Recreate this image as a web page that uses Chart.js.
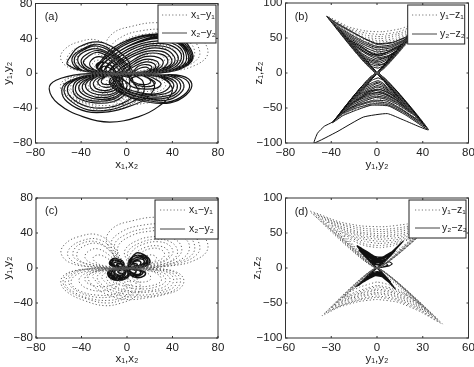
<!DOCTYPE html>
<html><head><meta charset="utf-8">
<script src="https://cdn.jsdelivr.net/npm/chart.js@4"></script>
<style>
html,body{margin:0;padding:0;background:#fff;width:474px;height:367px;overflow:hidden;position:relative}
canvas{position:absolute}
</style></head><body>
<canvas id="a" width="237" height="184" style="left:0;top:-12px"></canvas>
<canvas id="b" width="250" height="184" style="left:237px;top:-12px"></canvas>
<canvas id="c" width="237" height="184" style="left:0;top:182px"></canvas>
<canvas id="d" width="250" height="184" style="left:237px;top:182px"></canvas>
<script>
const xTicksWide = [-80,-40,0,40,80];
const xTicksNarrow = [-60,-30,0,30,60];
const yTicksXY = [-80,-40,0,40,80];
const yTicksZ = [-100,-50,0,50,100];

const x1y1 = [
[-2,2],[-18,30],[-12,46],[5,54],[25,58],[48,54],[64,42],[71,22],[58,8],[35,2],[10,0],
[-5,3],[-14,28],[-4,42],[14,49],[33,50],[52,44],[62,32],[63,18],[48,6],[26,1],[5,0],
[-3,4],[-11,26],[0,39],[17,45],[35,46],[51,39],[59,28],[57,15],[40,5],[16,0],
[-3,4],[-8,24],[4,37],[20,42],[38,43],[50,35],[55,24],[50,12],[32,3],[8,0],
[0,1],[-12,25],[-26,38],[-42,36],[-54,28],[-58,17],[-50,6],[-30,1],[-8,0],
[0,4],[-2,20],[10,32],[25,36],[38,35],[47,27],[47,16],[36,6],[12,1],
[-3,1],[-13,22],[-26,33],[-40,31],[-50,23],[-52,14],[-44,5],[-26,1],[-6,0],
[1,4],[1,19],[12,29],[26,33],[38,30],[44,22],[43,13],[33,5],[11,1],
[2,4],[4,18],[14,27],[28,30],[38,25],[40,16],[30,6],[10,1],
[-5,1],[-14,18],[-26,28],[-38,25],[-44,17],[-42,9],[-30,3],[-8,0],
[3,4],[7,16],[17,24],[29,25],[36,20],[36,12],[27,6],[9,2],
[4,5],[10,15],[20,22],[30,21],[33,14],[25,7],[8,2],
[-4,1],[-15,20],[-27,30],[-40,28],[-47,20],[-46,11],[-33,4],[-9,0],
[-6,1],[-15,14],[-26,22],[-34,19],[-37,12],[-30,5],[-10,1],
[8,5],[14,12],[22,15],[26,11],[20,5],[6,1],
[-8,1],[-16,10],[-25,15],[-30,11],[-24,4],[-8,0],
[-20,-1],[-45,-3],[-56,-9],[-58,-18],[-52,-28],[-38,-37],[-20,-43],[-5,-40],[8,-32],[12,-22],[5,-8],[-8,-1],
[-42,-2],[-54,-9],[-56,-18],[-50,-27],[-36,-35],[-18,-40],[-4,-36],[6,-28],[8,-18],[2,-8],[-9,-1],
[-40,-2],[-52,-10],[-54,-19],[-46,-28],[-32,-35],[-16,-37],[-3,-33],[4,-24],[0,-10],[-10,-2],
[-36,-2],[-49,-9],[-51,-18],[-43,-27],[-29,-33],[-14,-33],[-3,-28],[1,-18],[-3,-9],[-11,-2],
[-32,-3],[-46,-9],[-49,-18],[-40,-27],[-26,-31],[-12,-30],[-3,-24],[-3,-12],[-12,-3],
[5,0],[28,-1],[44,-5],[50,-14],[46,-24],[34,-30],[18,-34],[0,-36],[-16,-31],[-30,-20],[-34,-9],[-20,-2],
[27,-1],[42,-5],[47,-14],[43,-24],[30,-30],[13,-33],[-4,-32],[-19,-25],[-28,-14],[-30,-8],[-17,-2],
[25,-2],[40,-6],[44,-14],[40,-23],[26,-29],[8,-31],[-8,-28],[-22,-19],[-26,-9],[-14,-2],
[24,-2],[37,-6],[41,-14],[36,-23],[22,-27],[5,-28],[-10,-24],[-20,-15],[-22,-9],[-11,-2],
[22,-2],[34,-7],[38,-14],[32,-22],[18,-26],[2,-26],[-12,-20],[-18,-10],[-8,-2],
[20,-3],[31,-8],[34,-15],[27,-21],[13,-24],[-2,-21],[-14,-14],[-13,-7],[-5,-2],
[18,-3],[28,-8],[30,-15],[22,-20],[8,-21],[-6,-16],[-10,-8],[-2,-2],
[-28,-3],[-40,-9],[-42,-16],[-34,-24],[-20,-26],[-8,-20],[-8,-10],[-18,-3],
[-24,-3],[-35,-8],[-37,-14],[-30,-20],[-18,-21],[-9,-16],[-10,-8],[-18,-3],
[12,-3],[20,-8],[20,-14],[10,-16],[0,-12],[0,-5],[0,0]
];

const x2y2a = [
[-27,6],[-15,26],[5,40],[25,45],[45,42],[56,28],[57,14],[42,3],[15,0],
[-25,4],[-12,24],[8,38],[28,43],[44,38],[54,26],[55,13],[40,3],[12,0],
[-10,0],[-36,2],[-52,10],[-50,18],[-42,30],[-25,36],[-8,26],[3,8],[-8,0],
[-24,4],[-10,22],[10,36],[30,41],[45,36],[53,24],[53,12],[38,2],[10,0],
[-26,5],[-13,25],[6,39],[26,44],[44,40],[55,27],[56,13],[41,3],[14,0],
[-23,4],[-9,23],[11,37],[29,42],[45,37],[53,25],[54,12],[39,2],[11,0],
[-22,4],[-8,24],[12,36],[30,40],[45,34],[52,22],[50,10],[36,2],[8,0],
[-30,1],[-44,6],[-48,17],[-40,27],[-24,33],[-8,20],[5,1],[-12,0],
[-20,3],[-6,22],[13,34],[31,37],[45,31],[50,20],[46,8],[32,1],[6,0],
[-18,3],[-5,20],[14,32],[32,34],[44,28],[48,18],[42,7],[28,1],[5,0],
[-28,1],[-41,5],[-46,16],[-39,26],[-25,31],[-9,19],[3,1],[-12,0],
[-25,1],[-37,5],[-43,15],[-38,24],[-25,28],[-10,18],[0,1],[-12,0],
[-16,2],[-2,19],[16,30],[32,31],[42,25],[45,15],[38,6],[24,1],[3,0],
[-14,2],[0,18],[18,28],[32,28],[40,22],[42,13],[34,5],[20,1],[2,0],
[-12,2],[1,16],[17,25],[31,25],[38,19],[39,11],[30,4],[18,1],[1,0],
[-20,1],[-34,4],[-40,13],[-36,21],[-25,26],[-11,17],[-2,1],[-13,0],
[-15,0],[-30,4],[-38,12],[-34,19],[-25,24],[-12,15],[-3,1],
[-8,2],[2,12],[16,22],[30,22],[36,15],[32,6],[20,1],[0,0],
[-5,1],[4,11],[16,19],[28,18],[32,12],[26,4],[12,1],[-2,0],
[-10,0],[-24,2],[-32,8],[-31,15],[-24,19],[-13,13],[-5,1],
[-2,1],[6,10],[16,16],[26,14],[28,8],[20,2],[5,0],
[0,1],[8,9],[17,13],[24,11],[25,6],[16,2],[5,0],
[-12,0],[-22,3],[-27,9],[-22,13],[-14,9],[-8,1],
[4,1],[10,8],[17,10],[22,7],[18,2],[8,0],
[7,2],[12,6],[17,7],[20,4],[14,1],[5,0],
[-15,1],[-22,4],[-20,8],[-15,6],[-10,1],
[-18,1],[-25,5],[-24,11],[-18,12],[-12,7],[-10,1],
[-10,0],[-40,-1],[-62,-8],[-68,-18],[-60,-35],[-38,-50],[-15,-56],[10,-50],[28,-38],[40,-20],[30,-5],[5,0],
[-32,-2],[-52,-10],[-57,-20],[-52,-33],[-35,-44],[-15,-44],[2,-38],[18,-28],[24,-12],[10,-2],
[-31,-2],[-50,-10],[-55,-20],[-49,-32],[-34,-42],[-15,-42],[1,-35],[14,-24],[14,-9],[7,-2],
[25,-2],[48,-3],[57,-12],[52,-25],[38,-34],[18,-33],[0,-26],[-15,-12],[-10,-2],
[24,-2],[46,-4],[55,-13],[50,-25],[36,-33],[17,-31],[0,-25],[-14,-11],[-9,-2],
[-30,-2],[-48,-10],[-52,-20],[-46,-31],[-32,-39],[-15,-39],[0,-32],[10,-20],[4,-6],
[22,-2],[42,-4],[50,-13],[46,-24],[34,-31],[16,-29],[0,-23],[-12,-11],[-8,-2],
[-28,-2],[-44,-9],[-47,-20],[-42,-29],[-28,-34],[-13,-33],[-2,-25],[3,-14],[-8,-3],
[21,-2],[39,-4],[47,-12],[44,-23],[32,-29],[15,-28],[0,-22],[-10,-11],[-5,-2],
[20,-2],[36,-5],[44,-12],[42,-22],[30,-27],[14,-26],[0,-20],[-8,-10],[-2,-2],
[-26,-2],[-41,-9],[-45,-19],[-39,-28],[-26,-32],[-12,-30],[-3,-22],[0,-12],[-10,-2],
[-24,-2],[-38,-9],[-42,-18],[-36,-26],[-24,-30],[-12,-28],[-4,-20],[-4,-10],[-12,-2],
[18,-2],[33,-5],[41,-12],[38,-21],[26,-25],[11,-24],[-2,-18],[-6,-8],[-1,-2],
[16,-2],[30,-5],[38,-12],[34,-20],[22,-24],[8,-21],[-4,-15],[-4,-6],
[-22,-2],[-35,-8],[-39,-17],[-33,-25],[-22,-28],[-11,-25],[-5,-17],[-8,-8],
[-20,-2],[-33,-8],[-36,-16],[-30,-23],[-20,-25],[-10,-22],[-6,-14],[-12,-4],
[14,-2],[24,-6],[30,-12],[26,-17],[14,-18],[3,-14],[2,-5],
[-19,-2],[-30,-7],[-32,-15],[-27,-21],[-18,-22],[-9,-18],[-8,-11],[-13,-4],
[-17,-2],[-27,-7],[-29,-14],[-24,-19],[-15,-19],[-9,-13],[-12,-5],
[12,-2],[20,-6],[25,-11],[21,-15],[10,-14],[4,-9],[3,-3],
[10,-2],[18,-5],[21,-10],[15,-13],[6,-10],[4,-4],
[-15,-2],[-24,-7],[-25,-12],[-20,-16],[-13,-15],[-10,-10],[-12,-4],
[-14,-2],[-21,-6],[-22,-11],[-16,-13],[-11,-9],[-12,-4],[0,0]
];

const x2y2c = [
[-2,1],[-5,7],[-10,11],[-14,9],[-15,4],[-10,1],[-2,0],
[-3,1],[-6,6],[-10,9],[-13,8],[-14,4],[-9,1],
[0,1],[2,9],[7,14],[13,14],[18,10],[17,4],[10,1],[1,0],
[1,1],[3,8],[8,17],[15,15],[20,9],[18,3],[9,0],
[-1,0],[-7,-1],[-15,-3],[-17,-7],[-14,-12],[-8,-14],[-1,-12],[2,-7],[-2,-1],
[-6,-1],[-13,-3],[-15,-7],[-12,-11],[-7,-12],[-1,-10],[1,-6],[-2,-1],
[3,-1],[10,-2],[16,-5],[15,-9],[9,-11],[3,-8],[2,-3],
[-5,-1],[-14,-3],[-16,-7],[-13,-12],[-8,-13],[-1,-11],[1,-7],[-2,-1],
[-5,-1],[-12,-3],[-14,-6],[-11,-10],[-6,-11],[-2,-8],[-1,-4],
[2,-1],[9,-2],[14,-5],[12,-8],[7,-9],[3,-6],[2,-2],
[-4,-1],[-10,-2],[-12,-6],[-9,-9],[-5,-9],[-2,-6],[-3,-2],
[-3,-1],[-9,-2],[-11,-5],[-8,-8],[-4,-8],[-2,-5],[-3,-2],
[3,-1],[8,-2],[12,-4],[11,-7],[6,-7],[3,-5],[2,-2],
[1,1],[4,6],[9,10],[14,10],[15,6],[10,2],[2,0],
[-2,1],[-5,5],[-9,7],[-12,5],[-9,2],[-3,0],
[-2,1],[-4,8],[-9,10],[-13,7],[-12,3],[-5,1],
[1,1],[3,7],[8,12],[14,12],[17,7],[12,2],[3,0],
[1,1],[4,5],[8,8],[12,7],[11,3],[5,1],
[-2,1],[-4,4],[-7,6],[-9,4],[-6,1],
[-2,1],[-4,3],[-6,5],[-8,3],[-5,1],
[1,0],[4,4],[8,5],[9,3],[5,1],[0,0],
[2,0],[3,3],[6,4],[7,2],[3,0],
[-1,-1],[-5,-2],[-8,-4],[-6,-6],[-3,-6],[-2,-3],
[2,-1],[6,-2],[8,-4],[6,-6],[3,-4],[1,-1],[0,0]
];

const y1z1 = [
[0,0],[-44,81],[-25,66],[-10,60],[5,59],[20,63],[35,72],[46,83],[0,0],
[-42,78],[-25,64],[-10,57],[4,55],[19,59],[33,68],[44,79],[0,0],
[-40,76],[-24,62],[-10,54],[4,52],[18,56],[32,64],[42,75],[0,0],
[-38,73],[-23,59],[-10,51],[3,49],[17,53],[31,61],[40,72],[0,0],
[-36,70],[-22,56],[-10,49],[3,46],[17,50],[30,58],[39,70],[0,0],
[-33,66],[-21,54],[-9,46],[2,44],[16,47],[28,55],[37,66],[0,0],
[-30,61],[-20,51],[-9,44],[2,41],[15,44],[27,52],[35,63],[0,0],
[-28,56],[-18,47],[-8,41],[2,38],[14,41],[25,49],[32,59],[0,0],
[-25,52],[-16,44],[-8,38],[2,35],[13,38],[24,46],[30,55],[0,0],
[-22,47],[-14,40],[-7,34],[2,32],[12,35],[22,43],[27,50],[0,0],
[-19,42],[-12,35],[-6,31],[2,29],[11,32],[20,40],[25,46],[0,0],
[-36,-68],[-25,-56],[-12,-48],[0,-45],[14,-49],[28,-62],[43,-80],[0,0],
[-34,-64],[-24,-54],[-12,-46],[0,-42],[13,-46],[27,-59],[41,-77],[0,0],
[-32,-61],[-22,-52],[-11,-44],[0,-40],[13,-44],[26,-56],[40,-74],[0,0],
[-30,-57],[-21,-49],[-10,-41],[0,-37],[12,-41],[25,-53],[38,-70],[0,0],
[-28,-54],[-20,-46],[-10,-39],[0,-35],[12,-39],[24,-50],[36,-67],[0,0],
[-26,-50],[-18,-43],[-9,-36],[0,-32],[11,-36],[23,-47],[34,-63],[0,0],
[-24,-47],[-17,-40],[-8,-34],[0,-30],[11,-34],[22,-44],[32,-59],[0,0],
[-22,-43],[-15,-37],[-7,-31],[0,-27],[10,-31],[21,-41],[30,-55],[0,0],
[-20,-40],[-14,-34],[-7,-29],[0,-25],[10,-29],[20,-39],[28,-52],[0,0],
[-16,-32],[-11,-27],[-5,-23],[0,-20],[8,-24],[16,-33],[23,-43],[0,0]
];

const y2z2b = [
[0,0],[-44,81],[-36,72],[-25,62],[-12,50],[0,42],[14,44],[26,52],[36,65],[0,0],
[-43,79],[-35,70],[-24,60],[-11,49],[0,41],[13,43],[25,51],[35,64],[0,0],
[-40,74],[-32,64],[-22,54],[-10,44],[0,38],[12,40],[24,48],[32,60],[0,0],
[-38,70],[-30,60],[-20,50],[-9,41],[0,36],[12,38],[23,46],[31,58],[0,0],
[-35,65],[-28,56],[-18,46],[-8,38],[0,33],[12,36],[22,44],[30,55],[0,0],
[-33,62],[-26,52],[-16,42],[-7,34],[0,30],[11,33],[21,41],[29,53],[0,0],
[-30,56],[-23,46],[-14,38],[-6,30],[0,27],[10,30],[20,38],[28,50],[0,0],
[-28,52],[-21,43],[-12,34],[-4,27],[1,24],[10,28],[19,36],[27,48],[0,0],
[-25,47],[-18,38],[-10,30],[-3,24],[2,22],[10,25],[18,33],[26,46],[0,0],
[-32,60],[-24,48],[-14,38],[-5,28],[2,25],[12,32],[25,44],[0,0],
[-22,42],[-16,34],[-8,26],[0,20],[9,23],[17,32],[24,43],[0,0],
[-20,38],[-14,29],[-7,22],[0,18],[8,22],[16,30],[22,40],[0,0],
[-18,33],[-12,25],[-6,19],[1,16],[8,20],[15,28],[20,36],[0,0],
[-15,28],[-10,21],[-4,16],[2,14],[8,18],[14,26],[18,33],[0,0],
[-12,23],[-8,17],[-2,13],[3,12],[8,15],[12,21],[15,27],[0,0],
[-10,19],[-6,13],[0,10],[6,13],[10,19],[0,0],
[-8,15],[-4,9],[1,7],[5,10],[8,15],[0,0],
[-28,52],[-18,38],[-6,26],[6,28],[20,38],[0,0],
[-35,64],[0,0],[-30,55],[0,0],[-24,44],[0,0],[-18,33],[0,0],[28,52],[0,0],[24,45],[0,0],[18,34],[0,0],
[-39,-70],[-46,-76],[-52,-86],[-55,-100],[-35,-84],[-12,-63],[9,-58],[23,-67],[45,-81],[0,0],
[-39,-71],[-30,-61],[-18,-53],[-5,-46],[10,-47],[25,-60],[44,-80],[0,0],
[-38,-69],[-30,-58],[-18,-50],[-4,-44],[9,-45],[23,-56],[42,-76],[0,0],
[-36,-65],[-28,-55],[-17,-47],[-4,-41],[9,-43],[22,-53],[40,-72],[0,0],
[-33,-60],[-26,-52],[-16,-45],[-3,-39],[8,-40],[20,-50],[38,-69],[0,0],
[-32,-58],[-24,-50],[-14,-42],[-2,-35],[7,-37],[18,-45],[33,-60],[0,0],
[-30,-54],[-22,-46],[-13,-39],[-2,-33],[7,-35],[18,-43],[31,-57],[0,0],
[-28,-51],[-21,-43],[-12,-36],[-1,-30],[7,-33],[17,-41],[30,-55],[0,0],
[-26,-47],[-19,-40],[-10,-33],[-1,-28],[6,-30],[16,-38],[29,-53],[0,0],
[-24,-44],[-17,-37],[-9,-30],[-1,-25],[6,-28],[15,-36],[28,-51],[0,0],
[-22,-40],[-15,-33],[-8,-27],[0,-23],[6,-25],[14,-33],[26,-47],[0,0],
[-20,-37],[-14,-30],[-7,-25],[0,-20],[6,-23],[13,-31],[24,-44],[0,0],
[-18,-33],[-12,-27],[-6,-22],[0,-18],[5,-20],[12,-28],[21,-39],[0,0],
[-16,-30],[-11,-24],[-5,-19],[0,-15],[5,-18],[11,-26],[19,-35],[0,0],
[-14,-26],[-9,-20],[-4,-16],[1,-13],[5,-16],[10,-23],[16,-30],[0,0],
[-12,-22],[-8,-17],[-3,-13],[1,-11],[5,-14],[9,-20],[14,-26],[0,0],
[-30,-55],[-20,-42],[-8,-30],[4,-28],[18,-40],[32,-58],[0,0],
[-25,-46],[-16,-36],[-6,-26],[3,-24],[14,-32],[25,-46],[0,0],
[-8,-15],[-4,-10],[1,-7],[5,-10],[8,-15],[0,0],
[-34,-62],[0,0],[-29,-53],[0,0],[-23,-42],[0,0],[-17,-31],[0,0],[-11,-20],[0,0],
[40,-73],[0,0],[35,-64],[0,0],[30,-55],[0,0],[24,-44],[0,0],[17,-31],[0,0]
];

const y2z2d = [
[0,0],[-13,32],[-10,28],[-6,23],[-2,17],[3,15],[8,20],[12,28],[17,38],[12,26],[5,10],[0,0],
[-13,31],[-9,26],[-5,21],[-1,16],[4,16],[8,21],[12,26],[14,31],[0,0],
[-12,30],[-8,25],[-4,19],[0,14],[5,16],[9,22],[13,28],[0,0],
[-12,28],[-8,23],[-4,18],[0,13],[5,15],[8,20],[12,26],[0,0],
[-11,26],[-7,21],[-3,16],[1,12],[5,14],[8,19],[11,24],[0,0],
[-10,25],[-6,19],[-2,13],[2,11],[6,13],[9,18],[12,25],[0,0],
[-9,23],[-6,18],[-2,12],[2,10],[6,12],[8,17],[10,22],[0,0],
[-8,20],[-5,15],[-1,10],[2,9],[5,11],[7,15],[9,20],[0,0],
[-7,18],[-4,13],[-1,9],[3,8],[5,10],[7,14],[8,18],[0,0],
[-7,16],[-4,11],[-1,8],[3,7],[5,9],[7,14],[0,0],
[-5,12],[-2,7],[1,5],[4,7],[6,11],[0,0],
[-4,9],[-1,5],[2,4],[4,6],[5,9],[0,0],
[8,3],[10,6],[8,9],[6,7],[7,4],[0,0],
[-12,26],[0,0],[-10,22],[0,0],[-8,17],[0,0],[-6,12],[0,0],[10,20],[0,0],[8,16],[0,0],[6,11],[0,0],
[-14,-27],[-10,-21],[-6,-16],[-1,-11],[4,-13],[8,-21],[12,-30],[0,0],
[-13,-26],[-9,-20],[-5,-15],[-1,-10],[4,-12],[8,-19],[11,-28],[0,0],
[-12,-25],[-9,-19],[-5,-14],[-1,-10],[3,-12],[7,-19],[11,-27],[0,0],
[-12,-24],[-8,-18],[-4,-13],[0,-9],[3,-11],[7,-18],[10,-26],[0,0],
[-11,-22],[-8,-17],[-4,-12],[0,-9],[3,-11],[6,-16],[10,-24],[0,0],
[-10,-21],[-7,-15],[-3,-11],[0,-8],[3,-10],[6,-15],[9,-23],[0,0],
[-9,-18],[-6,-13],[-2,-9],[1,-7],[3,-9],[5,-13],[7,-19],[0,0],
[-8,-16],[-5,-12],[-2,-8],[1,-7],[3,-8],[5,-12],[7,-17],[0,0],
[-7,-15],[-4,-10],[-1,-7],[1,-6],[3,-8],[4,-11],[6,-15],[0,0],
[-5,-11],[-3,-7],[0,-5],[2,-6],[4,-10],[0,0],
[-10,-19],[0,0],[-8,-15],[0,0],[-6,-11],[0,0],[9,-20],[0,0],[7,-15],[0,0],[5,-11],[0,0]
];

const panels = [
 {id:'a',tag:'(a)',tagAt:[-72,65],xT:'x₁,x₂',yT:'y₁,y₂',xs:xTicksWide,ys:yTicksXY,s1:x1y1,s2:x2y2a,n1:'x₁−y₁',n2:'x₂−y₂',ten:0.4,lw:1.2,pad:{left:1,top:15.5,right:19,bottom:0},xh:29,yw:34.5,
  lg:[158,5,58,38],lgLine:[162,187,15,33],lgText:191,top:-12,left:0},
 {id:'b',tag:'(b)',tagAt:[-72,80],xT:'y₁,y₂',yT:'z₁,z₂',xs:xTicksWide,ys:yTicksZ,s1:y1z1,s2:y2z2b,n1:'y₁−z₁',n2:'y₂−z₂',ten:0.15,lw:1,pad:{left:15,top:15,right:18.5,bottom:0},xh:29,yw:33.5,
  lg:[407.7,5,57,39],lgLine:[412,437,15,34],lgText:440,top:-12,left:237},
 {id:'c',tag:'(c)',tagAt:[-72,65],xT:'x₁,x₂',yT:'y₁,y₂',xs:xTicksWide,ys:yTicksXY,s1:x1y1,s2:x2y2c,n1:'x₁−y₁',n2:'x₂−y₂',ten:0.4,lw:1.6,pad:{left:1,top:16,right:19,bottom:0},xh:28,yw:35,
  lg:[155,200,63,39],lgLine:[160,185,210,229],lgText:189,top:182,left:0},
 {id:'d',tag:'(d)',tagAt:[-54,80],xT:'y₁,y₂',yT:'z₁,z₂',xs:xTicksNarrow,ys:yTicksZ,s1:y1z1,s2:y2z2d,n1:'y₁−z₁',n2:'y₂−z₂',ten:0.15,lw:1.1,pad:{left:13,top:16,right:18.5,bottom:0},xh:28,yw:35.5,
  lg:[409,200,57,38],lgLine:[415,440,210,228],lgText:442,top:182,left:237}
];

const FONT = '"Liberation Sans", Arial, sans-serif';
const INK = '#222';
const fmt = v => String(v).replace('-', '−');
const toPts = arr => arr.map(p => ({x:p[0], y:p[1]}));

const framePlugin = {
  id:'frame',
  afterDatasetsDraw(chart, args, opts){
    const {ctx, chartArea:ca, scales:{x,y}} = chart;
    const P = opts.panel;
    ctx.save();
    ctx.strokeStyle = '#333'; ctx.lineWidth = 1;
    ctx.strokeRect(ca.left, ca.top, ca.right-ca.left, ca.bottom-ca.top);
    ctx.beginPath();
    x.ticks.forEach(t=>{const px=x.getPixelForValue(t.value);
      ctx.moveTo(px,ca.bottom);ctx.lineTo(px,ca.bottom-2);
      ctx.moveTo(px,ca.top);ctx.lineTo(px,ca.top+2);});
    y.ticks.forEach(t=>{const py=y.getPixelForValue(t.value);
      ctx.moveTo(ca.left,py);ctx.lineTo(ca.left+2,py);
      ctx.moveTo(ca.right,py);ctx.lineTo(ca.right-2,py);});
    ctx.stroke();
    ctx.fillStyle = INK; ctx.font = '11px '+FONT; ctx.textBaseline='middle'; ctx.textAlign='left';
    ctx.fillText(P.tag, x.getPixelForValue(P.tagAt[0]), y.getPixelForValue(P.tagAt[1]));
    const ox=-P.left, oy=-P.top;
    ctx.fillStyle='#fff'; ctx.strokeStyle='#222'; ctx.lineWidth=1;
    ctx.fillRect(P.lg[0]+ox,P.lg[1]+oy,P.lg[2],P.lg[3]);
    ctx.strokeRect(P.lg[0]+ox,P.lg[1]+oy,P.lg[2],P.lg[3]);
    const ds=chart.data.datasets;
    [[ds[0],P.lgLine[2]],[ds[1],P.lgLine[3]]].forEach(([d,yy])=>{
      ctx.beginPath();
      ctx.strokeStyle = d===ds[0] ? '#777' : '#444';
      ctx.lineWidth=1;
      ctx.setLineDash(d.borderDash||[]);
      ctx.moveTo(P.lgLine[0]+ox,yy+oy);ctx.lineTo(P.lgLine[1]+ox,yy+oy);ctx.stroke();
      ctx.setLineDash([]);
      ctx.fillStyle=INK; ctx.font='10.5px '+FONT;
      ctx.fillText(d.label,P.lgText+ox,yy+oy);
    });
    ctx.restore();
  }
};

panels.forEach(P=>{
  const axis = (title, ticks, isX) => ({
    type:'linear', min:ticks[0], max:ticks[ticks.length-1],
    afterBuildTicks: s => { s.ticks = ticks.map(v=>({value:v})); },
    afterFit: s => { if(isX) s.height=P.xh; else s.width=P.yw; },
    grid:{display:false,drawTicks:false}, border:{display:false},
    ticks:{color:INK,font:{family:FONT,size:11.5},padding:3,maxRotation:0,autoSkip:false,callback:fmt},
    title:{display:true,text:title,color:INK,font:{family:FONT,size:11.5},padding:0}
  });
  new Chart(document.getElementById(P.id),{
    type:'scatter',
    data:{datasets:[
      {label:P.n1,data:toPts(P.s1),showLine:true,pointRadius:0,borderColor:'#555',borderWidth:0.9,borderDash:[1.2,2.2],tension:P.ten},
      {label:P.n2,data:toPts(P.s2),showLine:true,pointRadius:0,borderColor:'#111',borderWidth:P.lw,tension:P.ten}
    ]},
    options:{
      responsive:false,animation:false,
      layout:{padding:P.pad},
      scales:{x:axis(P.xT,P.xs,true),y:axis(P.yT,P.ys,false)},
      plugins:{legend:{display:false},tooltip:{enabled:false},frame:{panel:P}}
    },
    plugins:[framePlugin]
  });
});
</script>
</body></html>
